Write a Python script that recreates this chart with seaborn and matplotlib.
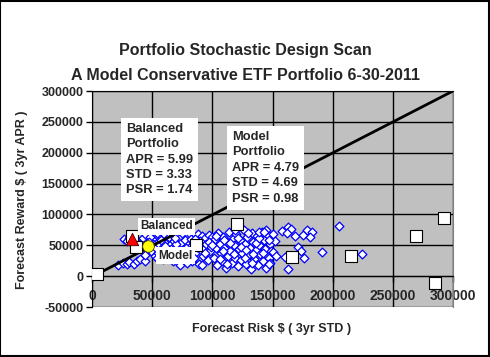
import pandas as pd
import seaborn as sns
import matplotlib.pyplot as plt
from matplotlib.patches import Rectangle

# scan results (x = risk, y = reward), values in thousands of $
scan_risk = [22, 26, 29, 31, 35, 37, 40, 44,
             27, 29, 31, 32, 36,
             50, 51, 49, 52, 53,
             42, 45, 48, 55, 58, 61, 64, 67, 70, 73, 76, 79, 82, 85, 88, 91, 94, 97, 100,
             43, 46, 47, 55, 56, 58, 60, 62, 63, 65, 66, 68, 69, 71, 72, 74, 75, 77, 78,
             80, 81, 83, 84, 86, 87, 89, 90, 92, 93, 95, 96, 98, 99,
             44, 54, 57, 59, 64, 67, 70, 73, 76, 79, 82, 85, 88, 91, 94, 97, 61, 69, 78, 86,
             101, 102, 103, 104, 105, 106, 107, 108, 109, 110, 111, 112, 113, 114, 115, 116,
             117, 118, 119, 120, 121, 122, 123, 124, 125, 126, 127, 128, 129, 130, 131, 132,
             133, 134, 135, 136, 137, 138, 139, 140, 141, 142, 143, 144, 145, 146, 147, 148, 149,
             100, 103, 106, 109, 112, 115, 118, 121, 124, 127, 130, 133, 136, 139, 142, 145,
             148, 110, 119, 128, 134,
             205, 150, 151.7, 157.5, 162.5, 165, 161.7, 168.3, 175, 179, 182.5, 181, 171, 174,
             176, 162.5, 191, 224, 150, 153, 147.5, 160, 139, 143, 147]
scan_reward = [18, 22, 19, 23, 20, 24, 27, 25,
               60, 57, 62, 55, 58,
               60, 52, 40, 33, 45,
               62, 66, 63, 68, 64, 67, 63, 69, 65, 62, 68, 64, 66, 63, 69, 65, 62, 67, 64,
               50, 44, 55, 38, 52, 46, 56, 40, 30, 50, 44, 57, 36, 48, 28, 54, 42, 58, 33,
               50, 45, 25, 55, 38, 47, 20, 57, 32, 44, 52, 26, 40, 48,
               35, 30, 58, 27, 35, 25, 52, 18, 38, 22, 60, 30, 52, 18, 38, 56, 49, 61, 46, 60,
               30, 60, 45, 18, 70, 52, 38, 25, 64, 46, 14, 56, 33, 72, 41, 22,
               60, 50, 30, 68, 16, 44, 58, 26, 38, 74, 52, 20, 63, 34, 46, 12,
               70, 56, 28, 42, 65, 18, 50, 36, 72, 24, 58, 44, 14, 66, 30, 52, 40,
               50, 65, 28, 40, 20, 54, 36, 62, 48, 30, 70, 22, 54, 62, 38, 74,
               22, 58, 75, 42, 36,
               80.6, 67.7, 56.5, 72.6, 79, 75.8, 69.4, 64.5, 66.1, 74.2, 71, 62.9, 46.8, 40.3,
               29, 11.3, 38.7, 35.5, 38.7, 32.3, 19.4, 30.6, 72, 71, 58]

# benchmark portfolios (white squares)
bench_risk = [4, 33.3, 36.7, 86.7, 120.8, 165.8, 215, 269, 292.5, 285]
bench_reward = [3, 64.5, 47, 50, 85, 30.5, 32, 64.5, 93.5, -11]

# reference line
line_risk = [4, 300]
line_reward = [3, 300]

balanced_risk, balanced_reward = [33.3], [59.7]
model_risk, model_reward = [46.7], [48.4]

k = 1000
scan = pd.DataFrame({"risk": [v * k for v in scan_risk], "reward": [v * k for v in scan_reward]})
bench = pd.DataFrame({"risk": [v * k for v in bench_risk], "reward": [v * k for v in bench_reward]})

sns.set_style("white")
plt.rcParams["font.family"] = ["Liberation Sans", "DejaVu Sans"]
plt.rcParams["font.weight"] = "bold"

fig = plt.figure(figsize=(4.9, 3.57), dpi=100)
ax = fig.add_axes([92 / 490, 1 - 307 / 357, 361 / 490, 216 / 357])
ax.set_facecolor("#C0C0C0")

sns.scatterplot(data=scan, x="risk", y="reward", marker="D", s=20, color="white",
                edgecolor="#0000FF", linewidth=0.9, ax=ax, zorder=3)
sns.lineplot(x=[v * k for v in line_risk], y=[v * k for v in line_reward], color="black",
             linewidth=2, sort=False, ax=ax, zorder=4)
sns.scatterplot(data=bench, x="risk", y="reward", marker="s", s=75, color="white",
                edgecolor="black", linewidth=0.8, ax=ax, zorder=5)
sns.scatterplot(x=[v * k for v in balanced_risk], y=[v * k for v in balanced_reward], marker="^",
                s=80, color="red", edgecolor="#400000", linewidth=0.6, ax=ax, zorder=6)
sns.scatterplot(x=[v * k for v in model_risk], y=[v * k for v in model_reward], marker="o",
                s=70, color="yellow", edgecolor="#404000", linewidth=0.6, ax=ax, zorder=6)

ax.set_xlim(0, 300000)
ax.set_ylim(-50000, 300000)
ax.set_xticks(range(0, 300001, 50000))
ax.set_yticks(range(-50000, 300001, 50000))
ax.set_xticklabels([str(v) for v in range(0, 300001, 50000)], fontsize=9, fontweight="bold")
ax.set_yticklabels([str(v) for v in range(-50000, 300001, 50000)], fontsize=9, fontweight="bold")
ax.grid(True, color="black", linewidth=1)
ax.set_axisbelow(True)
ax.spines["bottom"].set_position(("data", 0))
ax.spines["bottom"].set_color("black")
ax.spines["left"].set_color("black")
ax.spines["top"].set_color("black")
ax.spines["right"].set_color("#808080")
ax.tick_params(axis="both", direction="out", length=4, width=1, color="black", pad=2)
ax.tick_params(axis="x", bottom=True, pad=5)
ax.tick_params(axis="y", left=True)
ax.set_xlabel("")
ax.set_ylabel("")

box = dict(boxstyle="square,pad=0.38", fc="white", ec="none")
ax.text(0.094, 0.853, "Balanced\nPortfolio\nAPR = 5.99\nSTD = 3.33\nPSR = 1.74",
        transform=ax.transAxes, fontsize=9.3, fontweight="bold", va="top", ha="left",
        linespacing=1.38, bbox=box, zorder=10)
ax.text(0.388, 0.815, "Model\nPortfolio\nAPR = 4.79\nSTD = 4.69\nPSR = 0.98",
        transform=ax.transAxes, fontsize=9.3, fontweight="bold", va="top", ha="left",
        linespacing=1.38, bbox=box, zorder=10)
small = dict(boxstyle="square,pad=0.2", fc="white", ec="none")
ax.text(0.133, 0.373, "Balanced", transform=ax.transAxes, fontsize=8.5, fontweight="bold",
        va="center", ha="left", bbox=small, zorder=10)
ax.text(0.183, 0.238, "Model", transform=ax.transAxes, fontsize=8.5, fontweight="bold",
        va="center", ha="left", bbox=small, zorder=10)

fig.text(0.5, 1 - 51 / 357, "Portfolio Stochastic Design Scan", ha="center", va="center",
         fontsize=11.5, fontweight="bold")
fig.text(0.5, 1 - 76 / 357, "A Model Conservative ETF Portfolio 6-30-2011", ha="center",
         va="center", fontsize=11.5, fontweight="bold")
fig.text(272 / 490, 1 - 329 / 357, "Forecast Risk $ ( 3yr STD )", ha="center", va="center",
         fontsize=9, fontweight="bold")
fig.text(22 / 490, 1 - 200 / 357, "Forecast Reward $ ( 3yr APR )", ha="center", va="center",
         rotation=90, fontsize=9, fontweight="bold")

fig.add_artist(Rectangle((0.001, 0.002), 0.997, 0.996, transform=fig.transFigure,
                         fill=False, ec="black", lw=1.5))

plt.savefig("out.png", dpi=100)
